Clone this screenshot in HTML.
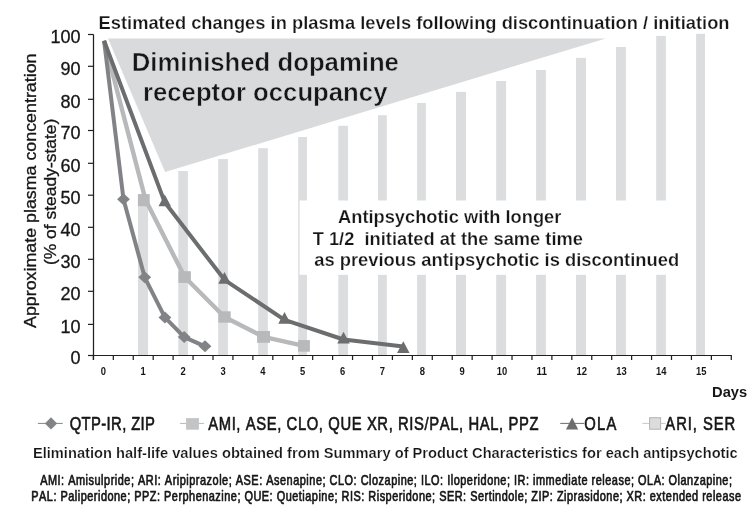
<!DOCTYPE html>
<html><head><meta charset="utf-8"><style>
html,body{margin:0;padding:0;background:#fff;}
svg{display:block;font-family:'Liberation Sans', Arial, Helvetica, sans-serif;}
</style></head><body>
<svg width="755" height="519" viewBox="0 0 755 519">
<rect width="755" height="519" fill="#fff"/>
<polygon points="108,38.4 605.8,38.4 165.1,172.1" fill="#d9dadc"/>
<rect x="138.00" y="200" width="10.00" height="155.50" fill="#dcdddf"/>
<rect x="178.30" y="171" width="9.60" height="184.50" fill="#dcdddf"/>
<rect x="218.20" y="159.1" width="9.70" height="196.40" fill="#dcdddf"/>
<rect x="258.20" y="148.2" width="9.60" height="207.30" fill="#dcdddf"/>
<rect x="298.20" y="137" width="8.80" height="218.50" fill="#dcdddf"/>
<rect x="338.30" y="125.8" width="9.70" height="229.70" fill="#dcdddf"/>
<rect x="378.00" y="115.2" width="8.80" height="240.30" fill="#dcdddf"/>
<rect x="417.10" y="103" width="8.80" height="252.50" fill="#dcdddf"/>
<rect x="456.00" y="91.9" width="10.00" height="263.60" fill="#dcdddf"/>
<rect x="496.20" y="81" width="9.90" height="274.50" fill="#dcdddf"/>
<rect x="536.10" y="70" width="9.80" height="285.50" fill="#dcdddf"/>
<rect x="576.00" y="57.9" width="10.00" height="297.60" fill="#dcdddf"/>
<rect x="616.00" y="47" width="9.90" height="308.50" fill="#dcdddf"/>
<rect x="656.20" y="35.9" width="9.70" height="319.60" fill="#dcdddf"/>
<rect x="696.10" y="33.8" width="8.90" height="321.70" fill="#dcdddf"/>
<rect x="299.6" y="200.5" width="390" height="74.3" fill="#fff"/>
<line x1="93.5" y1="34.4" x2="93.5" y2="360" stroke="#231f20" stroke-width="1.25"/>
<line x1="88" y1="355.5" x2="731.8" y2="355.5" stroke="#231f20" stroke-width="1.2"/>
<line x1="88" y1="355.50" x2="93.5" y2="355.50" stroke="#231f20" stroke-width="1.2"/>
<line x1="88" y1="324.40" x2="93.5" y2="324.40" stroke="#231f20" stroke-width="1.2"/>
<line x1="88" y1="291.30" x2="93.5" y2="291.30" stroke="#231f20" stroke-width="1.2"/>
<line x1="88" y1="259.30" x2="93.5" y2="259.30" stroke="#231f20" stroke-width="1.2"/>
<line x1="88" y1="227.30" x2="93.5" y2="227.30" stroke="#231f20" stroke-width="1.2"/>
<line x1="88" y1="195.20" x2="93.5" y2="195.20" stroke="#231f20" stroke-width="1.2"/>
<line x1="88" y1="163.30" x2="93.5" y2="163.30" stroke="#231f20" stroke-width="1.2"/>
<line x1="88" y1="130.50" x2="93.5" y2="130.50" stroke="#231f20" stroke-width="1.2"/>
<line x1="88" y1="99.30" x2="93.5" y2="99.30" stroke="#231f20" stroke-width="1.2"/>
<line x1="88" y1="66.30" x2="93.5" y2="66.30" stroke="#231f20" stroke-width="1.2"/>
<line x1="88" y1="34.50" x2="93.5" y2="34.50" stroke="#231f20" stroke-width="1.2"/>
<line x1="93.40" y1="355.5" x2="93.40" y2="360" stroke="#231f20" stroke-width="1.25"/>
<line x1="113.33" y1="355.5" x2="113.33" y2="360" stroke="#231f20" stroke-width="1.25"/>
<line x1="133.27" y1="355.5" x2="133.27" y2="360" stroke="#231f20" stroke-width="1.25"/>
<line x1="153.20" y1="355.5" x2="153.20" y2="360" stroke="#231f20" stroke-width="1.25"/>
<line x1="173.14" y1="355.5" x2="173.14" y2="360" stroke="#231f20" stroke-width="1.25"/>
<line x1="193.07" y1="355.5" x2="193.07" y2="360" stroke="#231f20" stroke-width="1.25"/>
<line x1="213.01" y1="355.5" x2="213.01" y2="360" stroke="#231f20" stroke-width="1.25"/>
<line x1="232.94" y1="355.5" x2="232.94" y2="360" stroke="#231f20" stroke-width="1.25"/>
<line x1="252.88" y1="355.5" x2="252.88" y2="360" stroke="#231f20" stroke-width="1.25"/>
<line x1="272.81" y1="355.5" x2="272.81" y2="360" stroke="#231f20" stroke-width="1.25"/>
<line x1="292.74" y1="355.5" x2="292.74" y2="360" stroke="#231f20" stroke-width="1.25"/>
<line x1="312.68" y1="355.5" x2="312.68" y2="360" stroke="#231f20" stroke-width="1.25"/>
<line x1="332.61" y1="355.5" x2="332.61" y2="360" stroke="#231f20" stroke-width="1.25"/>
<line x1="352.55" y1="355.5" x2="352.55" y2="360" stroke="#231f20" stroke-width="1.25"/>
<line x1="372.48" y1="355.5" x2="372.48" y2="360" stroke="#231f20" stroke-width="1.25"/>
<line x1="392.42" y1="355.5" x2="392.42" y2="360" stroke="#231f20" stroke-width="1.25"/>
<line x1="412.35" y1="355.5" x2="412.35" y2="360" stroke="#231f20" stroke-width="1.25"/>
<line x1="432.28" y1="355.5" x2="432.28" y2="360" stroke="#231f20" stroke-width="1.25"/>
<line x1="452.22" y1="355.5" x2="452.22" y2="360" stroke="#231f20" stroke-width="1.25"/>
<line x1="472.15" y1="355.5" x2="472.15" y2="360" stroke="#231f20" stroke-width="1.25"/>
<line x1="492.09" y1="355.5" x2="492.09" y2="360" stroke="#231f20" stroke-width="1.25"/>
<line x1="512.02" y1="355.5" x2="512.02" y2="360" stroke="#231f20" stroke-width="1.25"/>
<line x1="531.96" y1="355.5" x2="531.96" y2="360" stroke="#231f20" stroke-width="1.25"/>
<line x1="551.89" y1="355.5" x2="551.89" y2="360" stroke="#231f20" stroke-width="1.25"/>
<line x1="571.82" y1="355.5" x2="571.82" y2="360" stroke="#231f20" stroke-width="1.25"/>
<line x1="591.76" y1="355.5" x2="591.76" y2="360" stroke="#231f20" stroke-width="1.25"/>
<line x1="611.69" y1="355.5" x2="611.69" y2="360" stroke="#231f20" stroke-width="1.25"/>
<line x1="631.63" y1="355.5" x2="631.63" y2="360" stroke="#231f20" stroke-width="1.25"/>
<line x1="651.56" y1="355.5" x2="651.56" y2="360" stroke="#231f20" stroke-width="1.25"/>
<line x1="671.50" y1="355.5" x2="671.50" y2="360" stroke="#231f20" stroke-width="1.25"/>
<line x1="691.43" y1="355.5" x2="691.43" y2="360" stroke="#231f20" stroke-width="1.25"/>
<line x1="711.37" y1="355.5" x2="711.37" y2="360" stroke="#231f20" stroke-width="1.25"/>
<line x1="731.30" y1="355.5" x2="731.30" y2="360" stroke="#231f20" stroke-width="1.25"/>
<text x="80.6" y="364.30" font-size="18" text-anchor="end" fill="#161616" stroke="#161616" stroke-width="0.3">0</text>
<text x="80.6" y="333.20" font-size="18" text-anchor="end" fill="#161616" stroke="#161616" stroke-width="0.3">10</text>
<text x="80.6" y="300.10" font-size="18" text-anchor="end" fill="#161616" stroke="#161616" stroke-width="0.3">20</text>
<text x="80.6" y="268.10" font-size="18" text-anchor="end" fill="#161616" stroke="#161616" stroke-width="0.3">30</text>
<text x="80.6" y="236.10" font-size="18" text-anchor="end" fill="#161616" stroke="#161616" stroke-width="0.3">40</text>
<text x="80.6" y="204.00" font-size="18" text-anchor="end" fill="#161616" stroke="#161616" stroke-width="0.3">50</text>
<text x="80.6" y="172.10" font-size="18" text-anchor="end" fill="#161616" stroke="#161616" stroke-width="0.3">60</text>
<text x="80.6" y="139.30" font-size="18" text-anchor="end" fill="#161616" stroke="#161616" stroke-width="0.3">70</text>
<text x="80.6" y="108.10" font-size="18" text-anchor="end" fill="#161616" stroke="#161616" stroke-width="0.3">80</text>
<text x="80.6" y="75.10" font-size="18" text-anchor="end" fill="#161616" stroke="#161616" stroke-width="0.3">90</text>
<text x="80.6" y="43.30" font-size="18" text-anchor="end" fill="#161616" stroke="#161616" stroke-width="0.3">100</text>
<text x="100.76" y="375.00" font-size="11.2" font-weight="bold" textLength="5.23" lengthAdjust="spacingAndGlyphs" fill="#161616" >0</text>
<text x="140.45" y="375.00" font-size="11.2" font-weight="bold" textLength="5.23" lengthAdjust="spacingAndGlyphs" fill="#161616" >1</text>
<text x="180.51" y="375.00" font-size="11.2" font-weight="bold" textLength="5.23" lengthAdjust="spacingAndGlyphs" fill="#161616" >2</text>
<text x="220.42" y="375.00" font-size="11.2" font-weight="bold" textLength="5.23" lengthAdjust="spacingAndGlyphs" fill="#161616" >3</text>
<text x="260.18" y="375.00" font-size="11.2" font-weight="bold" textLength="5.23" lengthAdjust="spacingAndGlyphs" fill="#161616" >4</text>
<text x="300.08" y="375.00" font-size="11.2" font-weight="bold" textLength="5.23" lengthAdjust="spacingAndGlyphs" fill="#161616" >5</text>
<text x="339.96" y="375.00" font-size="11.2" font-weight="bold" textLength="5.23" lengthAdjust="spacingAndGlyphs" fill="#161616" >6</text>
<text x="379.84" y="375.00" font-size="11.2" font-weight="bold" textLength="5.23" lengthAdjust="spacingAndGlyphs" fill="#161616" >7</text>
<text x="419.70" y="375.00" font-size="11.2" font-weight="bold" textLength="5.23" lengthAdjust="spacingAndGlyphs" fill="#161616" >8</text>
<text x="459.58" y="375.00" font-size="11.2" font-weight="bold" textLength="5.23" lengthAdjust="spacingAndGlyphs" fill="#161616" >9</text>
<text x="496.72" y="375.00" font-size="11.2" font-weight="bold" textLength="10.46" lengthAdjust="spacingAndGlyphs" fill="#161616" >10</text>
<text x="536.53" y="375.00" font-size="11.2" font-weight="bold" textLength="10.46" lengthAdjust="spacingAndGlyphs" fill="#161616" >11</text>
<text x="576.45" y="375.00" font-size="11.2" font-weight="bold" textLength="10.46" lengthAdjust="spacingAndGlyphs" fill="#161616" >12</text>
<text x="616.30" y="375.00" font-size="11.2" font-weight="bold" textLength="10.46" lengthAdjust="spacingAndGlyphs" fill="#161616" >13</text>
<text x="656.03" y="375.00" font-size="11.2" font-weight="bold" textLength="10.46" lengthAdjust="spacingAndGlyphs" fill="#161616" >14</text>
<text x="696.00" y="375.00" font-size="11.2" font-weight="bold" textLength="10.46" lengthAdjust="spacingAndGlyphs" fill="#161616" >15</text>
<polyline points="104.1,40.8 145.6,200.1 184.7,277.0 224.5,317.0 263.5,336.9 304.0,345.9" fill="none" stroke="#b8b9bb" stroke-width="4.4" stroke-linejoin="round"/>
<rect x="137.9" y="194.1" width="11.80" height="12.10" fill="#b8b9bb"/>
<rect x="178.4" y="271.2" width="12.50" height="11.70" fill="#b8b9bb"/>
<rect x="218.3" y="311.3" width="12.40" height="11.40" fill="#b8b9bb"/>
<rect x="257.1" y="331.0" width="12.90" height="11.80" fill="#b8b9bb"/>
<rect x="298.1" y="340.1" width="11.80" height="11.60" fill="#b8b9bb"/>
<polyline points="104.1,40.8 123.5,199.3 144.7,277.3 164.9,317.4 184.2,337.1 205.0,346.3" fill="none" stroke="#828386" stroke-width="4" stroke-linejoin="round"/>
<polygon points="117.1,199.3 123.5,193.3 129.9,199.3 123.5,205.3" fill="#828386"/>
<polygon points="138.29999999999998,277.3 144.7,271.3 151.1,277.3 144.7,283.3" fill="#828386"/>
<polygon points="158.5,317.4 164.9,311.4 171.3,317.4 164.9,323.4" fill="#828386"/>
<polygon points="177.79999999999998,337.1 184.2,331.1 190.6,337.1 184.2,343.1" fill="#828386"/>
<polygon points="198.6,346.3 205.0,340.3 211.4,346.3 205.0,352.3" fill="#828386"/>
<polyline points="104.1,40.8 164.75,202.33333333333334 224.5,279.8333333333333 284.5,319.8333333333333 343.5,339.5 403.3,346.6" fill="none" stroke="#6c6d6f" stroke-width="4" stroke-linejoin="round"/>
<polygon points="158.50,206.30 164.75,194.40 171.00,206.30" fill="#6c6d6f"/>
<polygon points="218.25,283.80 224.50,271.90 230.75,283.80" fill="#6c6d6f"/>
<polygon points="278.25,323.80 284.50,311.90 290.75,323.80" fill="#6c6d6f"/>
<polygon points="337.25,343.60 343.50,331.70 349.75,343.60" fill="#6c6d6f"/>
<polygon points="397.05,353.10 403.30,341.20 409.55,353.10" fill="#6c6d6f"/>
<text x="98.55" y="28.80" font-size="18.2" font-weight="bold" textLength="631.01" lengthAdjust="spacingAndGlyphs" fill="#161616" stroke="#fff" stroke-width="0.25" stroke-linejoin="round" >Estimated changes in plasma levels following discontinuation / initiation</text>
<text x="131.73" y="70.60" font-size="25.8" font-weight="bold" textLength="267.20" lengthAdjust="spacingAndGlyphs" fill="#161616" stroke="#d9dadc" stroke-width="0.5" stroke-linejoin="round" >Diminished dopamine</text>
<text x="142.95" y="100.60" font-size="25.8" font-weight="bold" textLength="244.53" lengthAdjust="spacingAndGlyphs" fill="#161616" stroke="#d9dadc" stroke-width="0.5" stroke-linejoin="round" >receptor occupancy</text>
<text x="338.02" y="222.70" font-size="18.2" font-weight="bold" textLength="223.38" lengthAdjust="spacingAndGlyphs" fill="#161616" stroke="#fff" stroke-width="0.25" stroke-linejoin="round" >Antipsychotic with longer</text>
<text x="312.67" y="244.80" font-size="18.2" font-weight="bold" textLength="270.28" lengthAdjust="spacingAndGlyphs" fill="#161616" stroke="#fff" stroke-width="0.25" stroke-linejoin="round" xml:space="preserve">T 1/2  initiated at the same time</text>
<text x="314.24" y="265.50" font-size="18.2" font-weight="bold" textLength="364.90" lengthAdjust="spacingAndGlyphs" fill="#161616" stroke="#fff" stroke-width="0.25" stroke-linejoin="round" >as previous antipsychotic is discontinued</text>
<text x="712.12" y="396.60" font-size="15.0" font-weight="bold" textLength="35.08" lengthAdjust="spacingAndGlyphs" fill="#161616" >Days</text>
<text transform="translate(35.90,328.00) rotate(-90)" x="-0.03" y="0" font-size="17" font-weight="normal" textLength="274.49" lengthAdjust="spacingAndGlyphs" fill="#161616" stroke="#161616" stroke-width="0.3">Approximate plasma concentration</text>
<text transform="translate(56.40,264.00) rotate(-90)" x="-1.08" y="0" font-size="17" font-weight="normal" textLength="146.46" lengthAdjust="spacingAndGlyphs" fill="#161616" stroke="#161616" stroke-width="0.3">(% of steady-state)</text>
<line x1="37.9" y1="423.4" x2="62.7" y2="423.4" stroke="#828386" stroke-width="1"/>
<polygon points="44.9,423.4 51,417.29999999999995 57.1,423.4 51,429.5" fill="#828386"/>
<text transform="translate(69.65,429.70) scale(0.78,1)" x="0" y="0" font-size="19.0" font-weight="normal" letter-spacing="0.497" style="font-kerning:none" fill="#161616" stroke="#161616" stroke-width="0.641" stroke-linejoin="round">QTP-IR, ZIP</text>
<line x1="179.9" y1="423.4" x2="203.9" y2="423.4" stroke="#b8b9bb" stroke-width="1"/>
<rect x="186.1" y="418.1" width="12.8" height="11.6" fill="#c3c4c6"/>
<text transform="translate(208.22,429.70) scale(0.78,1)" x="0" y="0" font-size="19.0" font-weight="normal" letter-spacing="0.773" style="font-kerning:none" fill="#161616" stroke="#161616" stroke-width="0.641" stroke-linejoin="round">AMI, ASE, CLO, QUE XR, RIS/PAL, HAL, PPZ</text>
<line x1="560.2" y1="423.4" x2="584.1" y2="423.4" stroke="#6c6d6f" stroke-width="1"/>
<polygon points="566,429.6 572.1,417.4 578.2,429.6" fill="#6c6d6f"/>
<text transform="translate(584.35,429.70) scale(0.78,1)" x="0" y="0" font-size="19.0" font-weight="normal" letter-spacing="1.523" style="font-kerning:none" fill="#161616" stroke="#161616" stroke-width="0.641" stroke-linejoin="round">OLA</text>
<line x1="642.4" y1="423.4" x2="665.8" y2="423.4" stroke="#c8c8c8" stroke-width="1"/>
<rect x="649.6" y="417.7" width="11" height="11.5" fill="#dcdcdc" stroke="#b4b4b4" stroke-width="1"/>
<text transform="translate(665.32,429.70) scale(0.78,1)" x="0" y="0" font-size="19.0" font-weight="normal" letter-spacing="1.210" style="font-kerning:none" fill="#161616" stroke="#161616" stroke-width="0.641" stroke-linejoin="round">ARI, SER</text>
<text x="32.91" y="457.60" font-size="14.7" font-weight="bold" textLength="704.83" lengthAdjust="spacingAndGlyphs" fill="#161616" stroke="#fff" stroke-width="0.22" stroke-linejoin="round" >Elimination half-life values obtained from Summary of Product Characteristics for each antipsychotic</text>
<text transform="translate(40.15,485.00) scale(0.78,1)" x="0" y="0" font-size="14.0" font-weight="normal" letter-spacing="0.663" style="font-kerning:none" fill="#161616" stroke="#161616" stroke-width="0.705" stroke-linejoin="round">AMI: Amisulpride; ARI: Aripiprazole; ASE: Asenapine; CLO: Clozapine; ILO: Iloperidone; IR: immediate release; OLA: Olanzapine;</text>
<text transform="translate(31.28,500.90) scale(0.78,1)" x="0" y="0" font-size="14.0" font-weight="normal" letter-spacing="0.643" style="font-kerning:none" fill="#161616" stroke="#161616" stroke-width="0.705" stroke-linejoin="round">PAL: Paliperidone; PPZ: Perphenazine; QUE: Quetiapine; RIS: Risperidone; SER: Sertindole; ZIP: Ziprasidone; XR: extended release</text>
</svg>
</body></html>
